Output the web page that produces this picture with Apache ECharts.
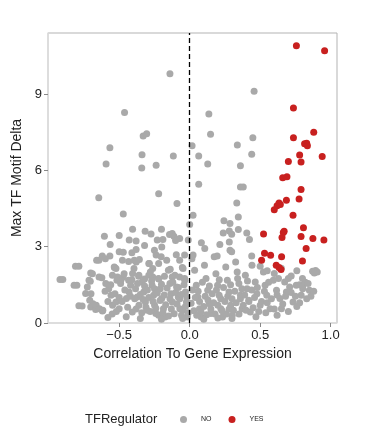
<!DOCTYPE html>
<html><head><meta charset="utf-8">
<script src="https://cdn.jsdelivr.net/npm/echarts@6/dist/echarts.min.js"></script>
<style>html,body{margin:0;padding:0;background:#fff}#c{width:371px;height:440px}</style>
</head><body><div id="c"></div>
<script>
// Correlation (x) vs Max TF Motif Delta (y)
const xTicks = [-0.5, 0.0, 0.5, 1.0];
const yTicks = [0, 3, 6, 9];
const legendNames = ['NO', 'YES'];

const pointsYES = [
[0.757,10.9],[0.957,10.7],[0.736,8.45],[0.88,7.5],[0.736,7.28],[0.815,7.05],[0.83,7.07],[0.835,6.97],
[0.78,6.6],[0.94,6.55],[0.70,6.35],[0.79,6.33],[0.66,5.71],[0.69,5.75],[0.79,5.25],[0.776,4.87],
[0.686,4.83],[0.60,4.45],[0.62,4.61],[0.634,4.72],[0.643,4.66],[0.733,4.24],[0.807,3.74],[0.67,3.61],
[0.664,3.56],[0.655,3.36],[0.524,3.50],[0.79,3.40],[0.874,3.32],[0.952,3.26],[0.826,2.93],[0.531,2.74],
[0.574,2.66],[0.652,2.60],[0.51,2.47],[0.80,2.44],[0.614,2.27],[0.634,2.18],[0.648,2.10]
];

const pointsNOupper = [
[-0.14,9.8],[-0.462,8.27],[-0.33,7.35],[-0.305,7.44],[-0.566,6.89],[-0.593,6.25],[-0.338,6.61],[-0.34,6.09],
[-0.238,6.2],[-0.116,6.56],[0.017,6.97],[0.064,6.56],[-0.645,4.92],[-0.22,5.08],[0.064,5.45],
[0.457,9.11],[0.136,8.22],[0.148,7.42],[0.448,7.28],[0.338,7.0],[0.44,6.63],[0.128,6.25],[0.36,6.18],
[0.36,5.35],[0.38,5.35],[0.334,4.72],[0.024,4.24],[0.0,3.87],[0.243,4.02],[0.286,3.91],[0.345,4.17],
[0.238,3.54],[0.281,3.62],[0.298,3.49],[0.345,3.68],[0.405,3.54],[0.424,3.28],[0.214,3.09],[0.281,3.18],
[0.298,2.80],[0.286,2.86],[0.083,3.15],[0.107,2.93],[0.195,2.63],[0.024,2.67],[0.44,2.63],[0.50,2.23],
[0.893,2.06],[0.905,2.0]
];

const pointsNOmid = [
[-0.09,4.70],[-0.471,4.28],[-0.405,3.69],[-0.316,3.61],[-0.274,3.50],[-0.2,3.69],[-0.605,3.41],[-0.5,3.44],
[-0.143,3.48],[-0.124,3.52],[-0.112,3.41],[-0.071,3.32],[-0.10,3.24],[-0.01,3.26],[-0.564,3.09],[-0.429,3.26],
[-0.38,3.22],[-0.23,3.26],[-0.19,3.28],[-0.32,3.05],[-0.198,2.99],[-0.62,2.63],[-0.5,2.80],[-0.471,2.78],
[-0.41,2.76],[-0.38,2.89],[-0.25,2.86],[-0.238,2.67],[-0.202,2.60],[-0.095,2.68],[-0.036,2.67],[-0.071,2.47],
[-0.66,2.47],[-0.566,2.63],[-0.81,2.23],[-0.433,2.42],[-0.393,2.47],[-0.357,2.50],[-0.286,2.34],[-0.262,2.14],
[-0.22,2.34],[-0.533,2.18],[-0.138,2.11],[-0.052,2.18],[-0.702,1.97],[-0.643,1.81],[-0.714,1.68],[-0.92,1.71],
[-0.82,1.48],[-0.726,1.42],[-0.738,1.16],[-0.548,1.88],[-0.516,1.68],[-0.595,1.55],[-0.471,1.81],[-0.433,1.68],
[-0.405,1.95],[-0.362,1.84],[-0.32,1.73],[-0.29,1.88],[-0.262,1.81],[-0.219,1.73],[-0.179,1.84],[-0.124,1.81],
[-0.071,1.81],[-0.036,1.75],[-0.786,0.68],[-0.702,0.63],[-0.667,0.53],[-0.619,0.47],[-0.686,0.76]
];

const pointsNOlow = [
[-0.90,1.71],[-0.80,1.48],[-0.763,0.67],[-0.786,2.23],[-0.705,1.64],[-0.69,1.94],[-0.644,2.47],[-0.623,1.78],
[-0.70,1.15],[-0.709,0.89],[-0.663,0.70],[-0.64,0.56],[-0.616,0.50],[-0.598,2.53],[-0.574,1.35],[-0.558,1.09],
[-0.535,2.20],[-0.523,2.14],[-0.512,1.81],[-0.488,1.68],[-0.477,2.47],[-0.465,1.94],[-0.547,0.70],[-0.523,0.83],
[-0.5,0.56],[-0.449,0.96],[-0.43,1.22],[-0.419,1.48],[-0.407,0.43],[-0.395,2.14],[-0.379,2.40],[-0.36,1.88],
[-0.384,1.35],[-0.372,1.02],[-0.36,0.70],[-0.337,1.61],[-0.326,1.22],[-0.314,0.83],[-0.302,0.50],[-0.29,2.34],
[-0.279,2.0],[-0.267,1.48],[-0.256,1.09],[-0.249,0.70],[-0.24,0.37],[-0.221,1.75],[-0.209,1.35],[-0.198,0.96],
[-0.186,0.56],[-0.174,0.24],[-0.163,2.47],[-0.151,2.07],[-0.14,1.55],[-0.133,1.15],[-0.123,0.83],[-0.105,1.88],
[-0.093,1.42],[-0.081,1.02],[-0.07,0.56],[-0.058,0.30],[-0.047,2.14],[-0.035,1.68],[-0.03,1.22],[-0.023,0.83],
[-0.016,0.24],[0.016,2.53],[0.035,2.07],[0.047,1.48],[0.058,1.02],[0.07,0.56],[0.081,0.24],[0.105,2.27],
[0.116,1.75],[0.128,1.29],[0.14,0.76],[0.151,0.37],[0.174,2.60],[0.186,1.94],[0.198,1.48],[0.209,1.09],
[0.221,0.56],[0.233,0.24],[0.256,2.20],[0.267,1.68],[0.279,1.22],[0.291,0.70],[0.302,0.30],[0.326,2.40],
[0.337,2.0],[0.349,1.55],[0.36,1.09],[0.372,0.56],[0.395,1.88],[0.407,1.35],[0.419,0.89],[0.43,0.43],
[0.442,2.27],[0.465,1.61],[0.477,1.15],[0.5,0.70],[0.523,2.0],[0.535,1.48],[0.547,1.09],[0.57,0.56],
[0.593,1.68],[0.616,1.29],[0.64,0.96],[0.651,0.56],[0.674,1.61],[0.686,1.22],[0.709,1.42],[0.733,0.83],
[0.756,1.48],[0.791,1.09],[0.802,1.35],[0.849,1.29],[0.872,2.03],[0.884,1.97],[0.779,1.50],[0.802,1.46]
];

const pointsNOcore = [
[-0.60,1.25],[-0.58,0.85],[-0.56,1.50],[-0.55,0.35],[-0.53,1.15],[-0.52,0.45],[-0.50,1.00],[-0.49,1.55],
[-0.48,0.85],[-0.46,1.30],[-0.44,0.62],[-0.42,1.05],[-0.41,1.70],[-0.39,0.95],[-0.38,0.55],[-0.37,1.55],
[-0.35,1.12],[-0.34,0.40],[-0.33,0.92],[-0.32,1.45],[-0.31,0.62],[-0.30,1.30],[-0.29,1.00],[-0.28,0.45],
[-0.27,1.65],[-0.26,0.85],[-0.25,1.35],[-0.24,0.58],[-0.23,1.18],[-0.22,0.30],[-0.21,0.88],[-0.20,1.52],
[-0.19,0.40],[-0.18,1.10],[-0.17,0.72],[-0.16,1.38],[-0.15,0.28],[-0.14,0.95],[-0.13,0.55],[-0.12,1.60],
[-0.11,0.36],[-0.10,1.20],[-0.09,0.75],[-0.08,1.40],[-0.07,0.95],[-0.06,1.12],[-0.05,0.50],[-0.04,1.50],
[-0.03,0.65],[-0.02,1.00],[-0.01,0.40],[0.01,0.78],[0.02,1.30],[0.03,0.48],[0.04,1.00],[0.05,0.30],
[0.06,1.25],[0.07,0.85],[0.08,0.45],[0.09,1.60],[0.10,0.65],[0.11,1.05],[0.12,0.32],[0.13,0.90],
[0.14,1.45],[0.15,0.55],[0.16,1.15],[0.17,0.80],[0.18,0.35],[0.19,1.30],[0.20,0.70],[0.21,1.70],
[0.22,0.95],[0.23,0.48],[0.24,1.40],[0.25,0.85],[0.26,0.35],[0.27,1.05],[0.28,0.55],[0.29,1.50],
[0.30,0.95],[0.31,0.50],[0.32,1.25],[0.33,0.80],[0.34,1.75],[0.35,0.35],[0.36,0.95],[0.37,1.35],
[0.38,0.70],[0.39,1.10],[0.40,0.50],[0.41,1.65],[0.42,0.85],[0.44,1.30],[0.45,0.60],[0.46,1.00],
[0.48,1.40],[0.49,0.45],[0.51,0.85],[0.53,1.25],[0.55,0.80],[0.56,1.60],[0.58,0.95],[0.60,0.55],
[0.62,1.10],[0.63,1.75],[0.66,0.75],[0.68,1.05],[0.70,1.75],[0.72,1.20],[0.75,1.05],[0.78,0.80],
[0.82,1.60],[0.86,1.05],[0.55,2.05],[0.60,1.95],[0.65,2.15],[0.72,1.85],[0.76,2.05],[0.80,1.75],
[0.84,1.55],[0.88,1.25],[0.83,0.95],[0.76,0.65],[0.70,0.45],[0.62,0.30],[0.54,0.40],[0.47,0.25],
[-0.45,0.25],[-0.35,0.18],[-0.20,0.15],[-0.05,0.18],[0.10,0.15],[0.20,0.20],[0.30,0.18],[-0.58,0.22]
];

const pointsNO = pointsNOupper.concat(pointsNOmid, pointsNOlow, pointsNOcore);

const FONT = 'Liberation Sans';
const chart = echarts.init(document.getElementById('c'), null, {renderer: 'canvas'});
const fmt = v => (Math.abs(v) < 1e-9 ? '0.0' : v.toFixed(1)).replace('-', '\u2212');

chart.setOption({
  animation: false,
  backgroundColor: '#fff',
  textStyle: {fontFamily: FONT},
  title: {
    text: 'TFRegulator', left: 85, top: 413, padding: 0,
    textStyle: {fontSize: 13, fontWeight: 'normal', color: '#222', fontFamily: FONT}
  },
  legend: {
    data: legendNames, left: 180, top: 416, padding: 0, icon: 'circle',
    itemWidth: 7, itemHeight: 7, itemGap: 17,
    textStyle: {fontSize: 7, color: '#222', padding: [0, 0, 0, 9], fontFamily: FONT}
  },
  grid: {left: 48, right: 34, top: 33, bottom: 117, show: true, borderColor: '#b3b3b3', borderWidth: 1},
  xAxis: {
    type: 'value', min: -1.005, max: 1.045,
    name: 'Correlation To Gene Expression', nameLocation: 'middle', nameGap: 24,
    nameTextStyle: {fontSize: 14, color: '#222', fontFamily: FONT},
    axisLine: {show: true, onZero: false, lineStyle: {color: '#dedede', width: 1.5}},
    axisTick: {show: true, length: 4, lineStyle: {color: '#888'}, customValues: xTicks},
    axisLabel: {fontSize: 13, color: '#222', margin: 6, formatter: fmt, customValues: xTicks, fontFamily: FONT},
    splitLine: {show: false}
  },
  yAxis: {
    type: 'value', min: 0, max: 11.4,
    name: 'Max TF Motif Delta', nameLocation: 'middle', nameGap: 21,
    nameTextStyle: {fontSize: 14, color: '#222', fontFamily: FONT},
    axisLine: {show: true, onZero: false, lineStyle: {color: '#dedede', width: 1.5}},
    axisTick: {show: true, length: 4, lineStyle: {color: '#888'}, customValues: yTicks},
    axisLabel: {fontSize: 13, color: '#222', margin: 6, customValues: yTicks, fontFamily: FONT},
    splitLine: {show: false}
  },
  series: [
    {
      name: 'NO', type: 'scatter', data: pointsNO, symbolSize: 7,
      itemStyle: {color: '#a9a9a9', opacity: 1},
      markLine: {
        silent: true, symbol: 'none', label: {show: false},
        lineStyle: {color: '#000', type: [5, 3], width: 1.3},
        data: [{xAxis: 0}]
      }
    },
    {
      name: 'YES', type: 'scatter', data: pointsYES, symbolSize: 7,
      itemStyle: {color: '#c8201f', opacity: 1}
    }
  ]
});
</script>
</body></html>
